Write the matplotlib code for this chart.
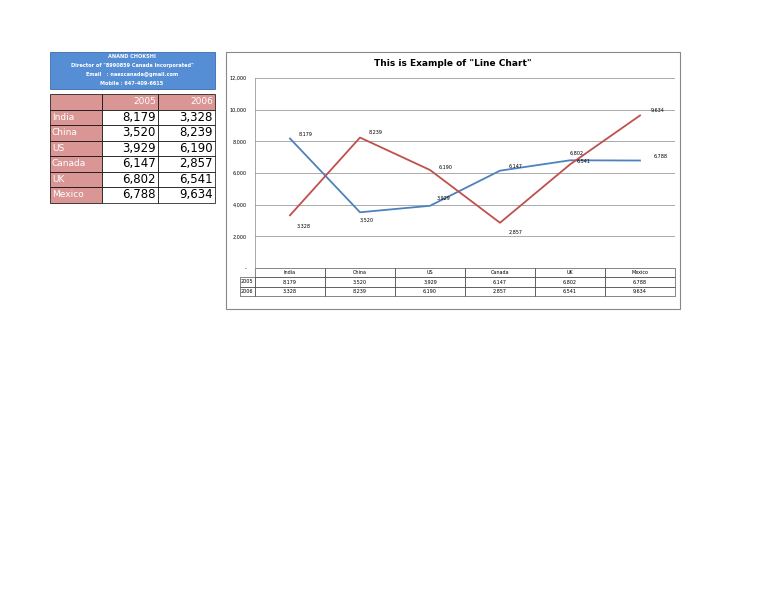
import matplotlib.pyplot as plt
from matplotlib.patches import Rectangle

countries = ['India', 'China', 'US', 'Canada', 'UK', 'Mexico']
years = ['2005', '2006']
v2005 = [8179, 3520, 3929, 6147, 6802, 6788]
v2006 = [3328, 8239, 6190, 2857, 6541, 9634]
header_lines = ['ANAND CHOKSHI', 'Director of "8990859 Canada Incorporated"',
                'Email   : naescanada@gmail.com', 'Mobile : 647-409-6615']

blue = '#4F81BD'
red = '#C0504D'
pink = '#DA9694'

fig = plt.figure(figsize=(7.68, 5.94), dpi=100)
# overlay in pixel coordinates for the sheet cells
pg = fig.add_axes([0, 0, 1, 1])
pg.set_xlim(0, 768)
pg.set_ylim(594, 0)
pg.axis('off')

# contact box
pg.add_patch(Rectangle((50, 52), 165, 37, fc='#558ED5', ec='#3A6AAA', lw=0.6))
for i, s in enumerate(header_lines):
    pg.text(132, 57 + i * 8.7, s, ha='center', va='center', fontsize=3.6, color='white', weight='bold')

# left data table
x0, xs, y0, rh = 50, [50, 102, 158, 215], 94, 15.5
cols = [[''] + countries, [years[0]] + [f'{v:,}' for v in v2005], [years[1]] + [f'{v:,}' for v in v2006]]
for r in range(7):
    y = y0 + r * rh
    for c in range(3):
        fc = pink if (r == 0 or c == 0) else 'white'
        pg.add_patch(Rectangle((xs[c], y), xs[c + 1] - xs[c], rh, fc=fc, ec='black', lw=0.5))
        txt = cols[c][r]
        if c == 0:
            pg.text(xs[c] + 2, y + rh / 2, txt, ha='left', va='center', fontsize=6.5, color='white')
        else:
            pg.text(xs[c + 1] - 2, y + rh / 2, txt, ha='right', va='center',
                    fontsize=6.5 if r == 0 else 8.5, color='white' if r == 0 else 'black')

# chart frame
pg.add_patch(Rectangle((226, 52), 454, 257, fc='none', ec='#888888', lw=0.8))
pg.text(453, 64, 'This is Example of "Line Chart"', ha='center', va='center', fontsize=6.5, weight='bold')

# chart data table
tx = [240, 255] + [255 + 70 * (i + 1) for i in range(6)]
rows = [('', countries), (years[0], [f'{v:,}' for v in v2005]), (years[1], [f'{v:,}' for v in v2006])]
for r, (lab, vals) in enumerate(rows):
    y = 268 + r * 9.3
    if r > 0:
        pg.add_patch(Rectangle((tx[0], y), 15, 9.3, fc='none', ec='#555555', lw=0.5))
        pg.text(tx[0] + 1, y + 4.6, lab, ha='left', va='center', fontsize=3.5)
    for c, v in enumerate(vals):
        pg.add_patch(Rectangle((tx[c + 1], y), 70, 9.3, fc='none', ec='#555555', lw=0.5))
        pg.text(tx[c + 1] + 35, y + 4.6, v, ha='center', va='center', fontsize=3.5)

# line chart
ax = fig.add_axes([255 / 768, 1 - 268 / 594, 420 / 768, 190 / 594])
x = range(len(countries))
ax.plot(x, v2005, color=blue, lw=1.3)
ax.plot(x, v2006, color=red, lw=1.3)
ax.set_xlim(-0.5, len(countries) - 0.5)
ax.set_ylim(0, 12000)
ax.set_yticks(range(0, 12001, 2000))
ax.set_yticklabels(['-'] + [f'{v:,}' for v in range(2000, 12001, 2000)], fontsize=3.5)
ax.set_xticks([])
ax.tick_params(axis='y', length=0, pad=6)
ax.grid(axis='y', color='#888888', lw=0.5)
for s in ['top', 'right', 'bottom']:
    ax.spines[s].set_visible(False)
ax.spines['left'].set_color('#888888')
ax.spines['left'].set_linewidth(0.5)

off05 = [(6, 2), (0, -7), (5, 4), (6, 2), (0, 4), (10, 2)]
off06 = [(5, -9), (6, 3), (6, 1), (6, -8), (5, 1), (8, 3)]
for i in x:
    ax.annotate(f'{v2005[i]:,}', (i, v2005[i]), xytext=off05[i], textcoords='offset points', fontsize=3.5)
    ax.annotate(f'{v2006[i]:,}', (i, v2006[i]), xytext=off06[i], textcoords='offset points', fontsize=3.5)

fig.savefig('out.png', dpi=100)
